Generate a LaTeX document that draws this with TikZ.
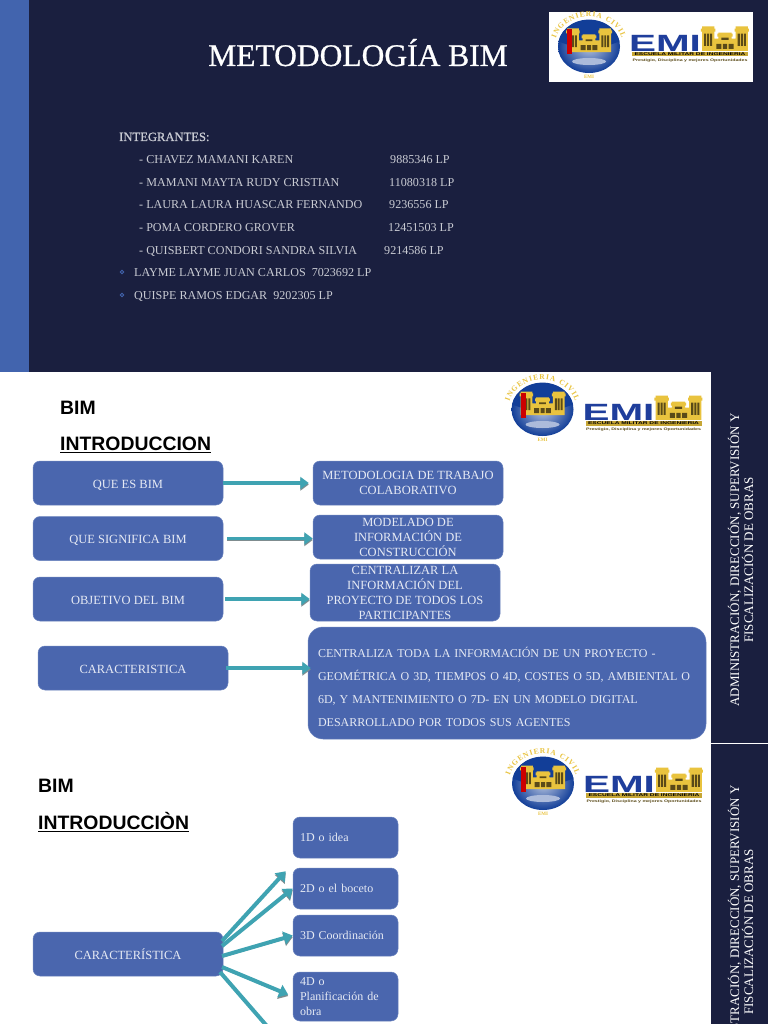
\documentclass[tikz,border=0pt]{standalone}
\usepackage{fontspec}
\setmainfont{Liberation Serif}
\newfontfamily\headfont{Liberation Sans}
\newfontfamily\heavyfont[FakeBold=0.8]{Liberation Serif}
\usetikzlibrary{arrows.meta,calc,decorations.text}
\definecolor{navyback}{HTML}{1A1F3F}
\definecolor{stripeblue}{HTML}{4264AE}
\definecolor{boxblue}{HTML}{4A66AE}
\definecolor{boxedge}{HTML}{6A83BE}
\definecolor{boxtext}{HTML}{E6EAF4}
\definecolor{listgray}{HTML}{C9CBD3}
\definecolor{flowteal}{HTML}{3FA3B2}
\definecolor{flowshade}{HTML}{7F8C8F}
\definecolor{logoblue}{HTML}{123E98}
\definecolor{emiblue}{HTML}{1F3E9C}
\definecolor{logogold}{HTML}{E9C33E}
\definecolor{logodark}{HTML}{5A4A18}
\newcommand{\emicastle}[3]{%
\begin{scope}[shift={(#1,#2)},scale=#3]
\fill[logogold] (0,0) rectangle (12,24) (33,0) rectangle (45,24) (12,12) rectangle (33,24) (16,6) rectangle (29,24);
\fill[logogold] (-1,2) rectangle (13,5) (32,2) rectangle (46,5) (15,7) rectangle (30,10);
\fill[logodark] (2,7) rectangle (4,19) (5,7) rectangle (7,19) (8,7) rectangle (10,19) (35,7) rectangle (37,19) (38,7) rectangle (40,19) (41,7) rectangle (43,19)
(19,11) rectangle (26,13) (14,17) rectangle (19,22) (20.5,17) rectangle (24.5,22) (26,17) rectangle (31,22);
\end{scope}}
\tikzset{
pics/emilogo/.style={code={
\shade[shading=radial,inner color=logoblue!30!white,outer color=logoblue] (0,0) ellipse[x radius=31,y radius=26.5];
\fill[logoblue] (-30.5,-5) arc[start angle=190,end angle=350,x radius=31,y radius=26.5] -- (22,-2) -- (-22,-2) -- cycle;
\fill[logoblue!35!white] (0,15) ellipse[x radius=17,y radius=3.5];
\emicastle{-22}{-18}{.98}
\fill[red!80!black] (-22,-17) rectangle (-17,8);
\path[decorate,decoration={text along path,text align=fit to path,
text={|\fontsize{7.5}{7.5}\bfseries\selectfont\color{logogold}|INGENIERIA CIVIL}}]
(-33,-8) arc[start angle=195,end angle=345,x radius=34,y radius=29.5];
\node[font=\fontsize{5}{5}\bfseries\selectfont,text=logogold,inner sep=0] (-emc) at (0,30) {EMI};
\begin{scope}[shift={(0,#1)}]
\node[font=\headfont\bfseries\fontsize{23.5}{23.5}\selectfont,text=emiblue,inner sep=0,text height=17pt,text depth=0pt,xscale=1.72] (-emi) at (76,-3.5) {EMI};
\emicastle{113}{-20}{1.02}
\fill[logogold!85!black] (43,5.5) rectangle (159,10);
\node[font=\headfont\bfseries\fontsize{4}{4}\selectfont,text=black,inner sep=0,xscale=1.65] (-band) at (101,7.8) {ESCUELA MILITAR DE INGENIERIA};
\node[font=\headfont\bfseries\fontsize{3.5}{3.5}\selectfont,text=logodark,inner sep=0,xscale=1.5] (-tag) at (101,13.8) {Prestigio, Disciplina y mejores Oportunidades};
\end{scope}
}}}
\begin{document}
\begin{tikzpicture}[x=1pt,y=-1pt,>=Triangle]
\tikzstyle{box}=[draw=boxedge,line width=.5pt,rounded corners=7pt,fill=boxblue,text=boxtext,align=center,inner sep=0,font=\fontsize{12.5}{15}\selectfont,minimum width=190pt,minimum height=44pt]
\tikzstyle{onebox}=[box,text height=12pt,text depth=2pt]
\tikzstyle{dbox}=[box,minimum width=105pt,minimum height=41pt,align=left,text width=91pt,font=\fontsize{12}{15}\selectfont]
\tikzstyle{listtext}=[anchor=base west,inner sep=0,text=listgray,font=\fontsize{12.1}{14}\selectfont]
\tikzstyle{bullet}=[circle,draw=stripeblue,line width=.8pt,inner sep=0,minimum size=3.4pt]
\tikzstyle{headtext}=[anchor=west,inner sep=0,font=\headfont\bfseries\fontsize{19.4}{20}\selectfont]
\tikzstyle{sidetext}=[rotate=90,text=white,align=center,inner sep=0,font=\fontsize{13}{14}\selectfont]
\tikzstyle{flow}=[->,draw=flowteal,line width=3.2pt,-{Triangle[length=8.5pt,width=12pt]},preaction={draw=flowshade,transform canvas={yshift=-1.5pt}}]
\tikzstyle{flowfat}=[flow,line width=4pt,-{Triangle[length=9pt,width=13pt]}]
\clip (0,0) rectangle (768,1024);
\fill[navyback] (0,0) rectangle (768,1024);
\fill[stripeblue] (0,0) rectangle (29,372);
\fill[white] (0,372) rectangle (711,1024);
\draw[white,line width=.7pt] (711,743.5) -- (768,743.5);
% first slide
\node[anchor=base,inner sep=0,text=white,font=\heavyfont\fontsize{31.5}{32}\selectfont] (title) at (358,66) {METODOLOGÍA BIM};
\fill[white] (549,12) rectangle (753,82);
\pic (logoa) at (589,46.5) {emilogo=0};
\node[listtext,font=\heavyfont\fontsize{12.6}{14}\selectfont] (integ) at (119,141) {INTEGRANTES:};
\node[listtext] (m1) at (139,163.5) {- CHAVEZ MAMANI KAREN};
\node[listtext] (n1) at (390,163.5) {9885346 LP};
\node[listtext] (m2) at (139,186.5) {- MAMANI MAYTA RUDY CRISTIAN};
\node[listtext] (n2) at (389,186.5) {11080318 LP};
\node[listtext] (m3) at (139,209) {- LAURA LAURA HUASCAR FERNANDO};
\node[listtext] (n3) at (389,209) {9236556 LP};
\node[listtext] (m4) at (139,231.5) {- POMA CORDERO GROVER};
\node[listtext] (n4) at (388,231.5) {12451503 LP};
\node[listtext] (m5) at (139,254.5) {- QUISBERT CONDORI SANDRA SILVIA};
\node[listtext] (n5) at (384,254.5) {9214586 LP};
\node[bullet] (b6) at (122,272) {};
\node[listtext] (m6) at (134,276.5) {LAYME LAYME JUAN CARLOS\ \ 7023692 LP};
\node[bullet] (b7) at (122,295) {};
\node[listtext] (m7) at (134,299.5) {QUISPE RAMOS EDGAR\ \ 9202305 LP};
% second slide
\node[headtext] (bima) at (60,408) {BIM};
\node[headtext] (intra) at (60,445) {\underline{INTRODUCCION}};
\pic (logob) at (542.5,409.5) {emilogo=6};
\node[onebox] (quees) at (128,483) {QUE ES BIM};
\node[onebox] (signif) at (128,538.5) {QUE SIGNIFICA BIM};
\node[onebox] (objet) at (128,599) {OBJETIVO DEL BIM};
\node[onebox] (carac) at (133,668) {CARACTERISTICA};
\node[box] (metod) at (408,483) {METODOLOGIA DE TRABAJO\\COLABORATIVO};
\node[box] (model) at (408,537) {MODELADO DE\\INFORMACIÓN DE\\CONSTRUCCIÓN};
\node[box,minimum height=57pt] (centr) at (405,592.5) {CENTRALIZAR LA\\INFORMACIÓN DEL\\PROYECTO DE TODOS LOS\\PARTICIPANTES};
\node[box,minimum width=398pt,minimum height=112pt,rounded corners=15pt,align=left,text width=378pt,text height=19pt,font=\fontsize{12}{23}\selectfont] (todo) at (507,683) {CENTRALIZA TODA LA INFORMACIÓN DE UN PROYECTO -\\GEOMÉTRICA O 3D, TIEMPOS O 4D, COSTES O 5D, AMBIENTAL O\\6D, Y MANTENIMIENTO O 7D- EN UN MODELO DIGITAL\\DESARROLLADO POR TODOS SUS AGENTES};
\draw[flow,shorten >=4pt] (quees.east) -- (metod.west);
\draw[flow,shorten <=4pt] (signif.east) -- (signif.east -| model.west);
\draw[flow,shorten <=2pt,shorten >=0pt] (objet.east) -- (objet.east -| centr.west);
\draw[flow,shorten <=-2pt,shorten >=-3pt] (carac.east) -- (carac.east -| todo.west);
\node[sidetext] (sidea) at (740.5,560) {ADMINISTRACIÓN, DIRECCIÓN, SUPERVISIÓN Y\\FISCALIZACIÓN DE OBRAS};
% third slide
\node[headtext] (bimb) at (38,786) {BIM};
\node[headtext] (intrb) at (38,822) {\underline{INTRODUCCIÒN}};
\pic (logoc) at (543,783.5) {emilogo=4};
\node[onebox] (caract) at (128,954) {CARACTERÍSTICA};
\node[dbox] (d1) at (345.5,837.5) {1D o idea};
\node[dbox] (d2) at (345.5,888.5) {2D o el boceto};
\node[dbox] (d3) at (345.5,935.5) {3D Coordinación};
\node[dbox,minimum height=49pt] (d4) at (345.5,996.5) {4D o\\Planificación de\\obra};
\coordinate (dout) at (286,1048);
\coordinate (ca) at (222,941);
\coordinate (cb) at (222,946);
\coordinate (cc) at (222,956);
\coordinate (cd) at (222,967);
\coordinate (ce) at (220,972);
\draw[flowfat] (ca) -- ($(d1.south west)+(-7,13)$);
\draw[flowfat] (cb) -- (d2.west);
\draw[flowfat] (cc) -- (d3.west);
\draw[flowfat,shorten >=5pt] (cd) -- (d4.west);
\draw[flowfat] (ce) -- (dout);
\node[sidetext] (sideb) at (740.5,932) {ADMINISTRACIÓN, DIRECCIÓN, SUPERVISIÓN Y\\FISCALIZACIÓN DE OBRAS};
\end{tikzpicture}
\end{document}
